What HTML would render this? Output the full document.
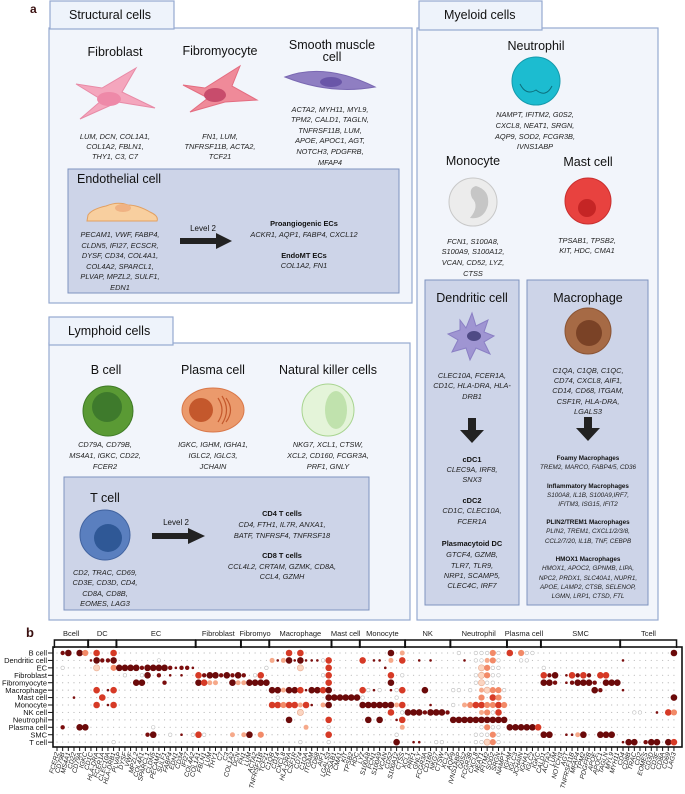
<!DOCTYPE html>
<html><head><meta charset="utf-8"><style>
html,body{margin:0;padding:0;background:#fff}
svg{display:block;font-family:"Liberation Sans",sans-serif}
.g{font-style:italic;font-size:7.4px;fill:#222;text-anchor:middle}
.b{font-weight:bold;font-size:7.4px;fill:#111;text-anchor:middle}
.h{font-size:12.5px;fill:#111;text-anchor:middle}
.tab{fill:#eef3fb;stroke:#95a9d0;stroke-width:1.2}
.box{fill:#f2f5fb;stroke:#95a9d0;stroke-width:1.2}
.inner{fill:#cdd4e8;stroke:#7f93bf;stroke-width:1}
</style></head><body>
<svg id="fig" width="685" height="794" viewBox="0 0 685 794">
<text x="30" y="13" font-size="12" font-weight="bold" fill="#3a1010">a</text>

<!-- Structural -->
<g>
<rect class="box" x="49" y="28" width="363" height="275"/>
<rect class="tab" x="50" y="1" width="124" height="28"/>
<text x="69" y="19" font-size="12.5" fill="#111">Structural cells</text>
<text class="h" x="115" y="56">Fibroblast</text>
<text class="h" x="220" y="55">Fibromyocyte</text>
<text class="h" x="332" y="49">Smooth muscle</text>
<text class="h" x="332" y="61">cell</text>
<path d="M76,84 L102,88 L136,68 L122,92 L155,108 L118,102 L80,119 L102,100 Z" fill="#f4a6bd" stroke="#e88aa6"/>
<ellipse cx="109" cy="99" rx="12" ry="7" fill="#ee89a8"/>
<path d="M183,85 L205,88 L240,66 L232,86 L257,100 L225,102 L190,112 L208,98 Z" fill="#ef8a99" stroke="#e46c80"/>
<ellipse cx="215" cy="95" rx="11" ry="7" fill="#c84c6c"/>
<path d="M285,77 Q325,62 375,87 Q330,95 285,77 Z" fill="#8f7ec2" stroke="#7a68b2"/>
<ellipse cx="331" cy="82" rx="11" ry="5" fill="#6a56a8"/>
<text class="g" x="115" y="139">LUM, DCN, COL1A1,</text>
<text class="g" x="115" y="149">COL1A2, FBLN1,</text>
<text class="g" x="115" y="159">THY1, C3, C7</text>
<text class="g" x="220" y="139">FN1, LUM,</text>
<text class="g" x="220" y="149">TNFRSF11B, ACTA2,</text>
<text class="g" x="220" y="159">TCF21</text>
<text class="g" x="330" y="112">ACTA2, MYH11, MYL9,</text>
<text class="g" x="330" y="122">TPM2, CALD1, TAGLN,</text>
<text class="g" x="330" y="133">TNFRSF11B, LUM,</text>
<text class="g" x="330" y="143">APOE, APOC1, AGT,</text>
<text class="g" x="330" y="154">NOTCH3, PDGFRB,</text>
<text class="g" x="330" y="165">MFAP4</text>
<g>
<rect class="inner" x="68" y="169" width="331" height="124"/>
<text x="77" y="183" font-size="12.5" fill="#111">Endothelial cell</text>
<path d="M87,221 L157,221 Q159,216 150,212 Q138,205 128,205 Q118,201 106,206 Q92,209 88,215 Z" fill="#f8cf9f" stroke="#e2a062"/>
<ellipse cx="123" cy="208" rx="8" ry="4" fill="#f0b283"/>
<text class="g" x="120" y="237">PECAM1, VWF, FABP4,</text>
<text class="g" x="120" y="248">CLDN5, IFI27, ECSCR,</text>
<text class="g" x="120" y="258">DYSF, CD34, COL4A1,</text>
<text class="g" x="120" y="269">COL4A2, SPARCL1,</text>
<text class="g" x="120" y="279">PLVAP, MPZL2, SULF1,</text>
<text class="g" x="120" y="290">EDN1</text>
<text x="203" y="231" font-size="8" fill="#111" text-anchor="middle">Level 2</text>
<path d="M180,238 L216,238 L216,233 L232,241 L216,249 L216,244 L180,244 Z" fill="#222"/>
<text class="b" x="304" y="226">Proangiogenic ECs</text>
<text class="g" x="304" y="237">ACKR1, AQP1, FABP4, CXCL12</text>
<text class="b" x="304" y="258">EndoMT ECs</text>
<text class="g" x="304" y="268">COL1A2, FN1</text>
</g></g>

<!-- Lymphoid -->
<g>
<rect class="box" x="49" y="343" width="361" height="277"/>
<rect class="tab" x="49" y="317" width="124" height="28"/>
<text x="68" y="335" font-size="12.5" fill="#111">Lymphoid cells</text>
<text class="h" x="106" y="374">B cell</text>
<text class="h" x="213" y="374">Plasma cell</text>
<text class="h" x="328" y="374">Natural killer cells</text>
<circle cx="108" cy="411" r="25" fill="#5a9a34" stroke="#3f7a26"/>
<circle cx="107" cy="407" r="15" fill="#3e7a2c"/>
<ellipse cx="213" cy="410" rx="31" ry="22" fill="#eb9a6c" stroke="#d9784a"/>
<circle cx="201" cy="410" r="12" fill="#c4582c"/>
<path d="M218,398 Q226,410 218,422 M222,396 Q231,410 222,424 M226,398 Q235,410 226,422" stroke="#c4582c" fill="none" stroke-width="1.2"/>
<circle cx="328" cy="410" r="26" fill="#e4f4d9" stroke="#a8d490"/>
<ellipse cx="336" cy="410" rx="11" ry="19" fill="#c0e2ad"/>
<text class="g" x="105" y="447">CD79A, CD79B,</text>
<text class="g" x="105" y="458">MS4A1, IGKC, CD22,</text>
<text class="g" x="105" y="469">FCER2</text>
<text class="g" x="213" y="447">IGKC, IGHM, IGHA1,</text>
<text class="g" x="213" y="458">IGLC2, IGLC3,</text>
<text class="g" x="213" y="469">JCHAIN</text>
<text class="g" x="328" y="447">NKG7, XCL1, CTSW,</text>
<text class="g" x="328" y="458">XCL2, CD160, FCGR3A,</text>
<text class="g" x="328" y="469">PRF1, GNLY</text>
<g>
<rect class="inner" x="64" y="477" width="305" height="133"/>
<text class="h" x="105" y="502" font-size="13">T cell</text>
<circle cx="105" cy="535" r="25" fill="#5a7fbf" stroke="#40629f"/>
<circle cx="108" cy="538" r="14" fill="#2f5896"/>
<text class="g" x="105" y="575">CD2, TRAC, CD69,</text>
<text class="g" x="105" y="585">CD3E, CD3D, CD4,</text>
<text class="g" x="105" y="596">CD8A, CD8B,</text>
<text class="g" x="105" y="606">EOMES, LAG3</text>
<text x="176" y="525" font-size="8" fill="#111" text-anchor="middle">Level 2</text>
<path d="M152,533 L188,533 L188,528 L205,536 L188,544 L188,539 L152,539 Z" fill="#222"/>
<text class="b" x="282" y="516">CD4 T cells</text>
<text class="g" x="282" y="527">CD4, FTH1, IL7R, ANXA1,</text>
<text class="g" x="282" y="538">BATF, TNFRSF4, TNFRSF18</text>
<text class="b" x="282" y="558">CD8 T cells</text>
<text class="g" x="282" y="569">CCL4L2, CRTAM, GZMK, CD8A,</text>
<text class="g" x="282" y="579">CCL4, GZMH</text>
</g></g>

<!-- Myeloid -->
<g>
<rect class="box" x="417" y="28" width="241" height="592"/>
<rect class="tab" x="419" y="1" width="123" height="29"/>
<text x="444" y="19" font-size="12.5" fill="#111">Myeloid cells</text>
<text class="h" x="536" y="50">Neutrophil</text>
<circle cx="536" cy="81" r="24" fill="#1cbcd0" stroke="#149aac"/>
<path d="M520,84 Q526,96 536,90 Q546,98 552,86" stroke="#0c6f7c" fill="none"/>
<text class="g" x="535" y="117">NAMPT, IFITM2, G0S2,</text>
<text class="g" x="535" y="128">CXCL8, NEAT1, SRGN,</text>
<text class="g" x="535" y="139">AQP9, SOD2, FCGR3B,</text>
<text class="g" x="535" y="149">IVNS1ABP</text>
<text class="h" x="473" y="165">Monocyte</text>
<text class="h" x="588" y="166">Mast cell</text>
<circle cx="473" cy="202" r="24" fill="#ececec" stroke="#c8c8c8"/>
<path d="M476,186 Q490,190 488,205 Q484,220 470,218 Q480,206 472,198 Q468,188 476,186 Z" fill="#c6c6c6"/>
<circle cx="588" cy="201" r="23" fill="#e8423f" stroke="#c92f2f"/>
<circle cx="587" cy="208" r="9" fill="#c52525"/>
<text class="g" x="473" y="244">FCN1, S100A8,</text>
<text class="g" x="473" y="254">S100A9, S100A12,</text>
<text class="g" x="473" y="265">VCAN, CD52, LYZ,</text>
<text class="g" x="473" y="276">CTSS</text>
<text class="g" x="587" y="243">TPSAB1, TPSB2,</text>
<text class="g" x="587" y="253">KIT, HDC, CMA1</text>
<g>
<rect class="inner" x="425" y="280" width="94" height="325"/>
<text class="h" x="472" y="302">Dendritic cell</text>
<path d="M460,320 L466,328 L472,313 L476,326 L488,320 L484,332 L494,336 L484,342 L490,354 L476,348 L470,360 L466,348 L452,352 L458,340 L448,334 L460,330 Z" fill="#9f95d2" stroke="#8a7fc4"/>
<ellipse cx="474" cy="336" rx="7" ry="5" fill="#4f4a85"/>
<text class="g" x="472" y="378">CLEC10A, FCER1A,</text>
<text class="g" x="472" y="388">CD1C, HLA-DRA, HLA-</text>
<text class="g" x="472" y="399">DRB1</text>
<path d="M468,418 L476,418 L476,430 L484,430 L472,443 L460,430 L468,430 Z" fill="#222"/>
<text class="b" x="472" y="462">cDC1</text>
<text class="g" x="472" y="472">CLEC9A, IRF8,</text>
<text class="g" x="472" y="482">SNX3</text>
<text class="b" x="472" y="503">cDC2</text>
<text class="g" x="472" y="513">CD1C, CLEC10A,</text>
<text class="g" x="472" y="524">FCER1A</text>
<text class="b" x="472" y="546">Plasmacytoid DC</text>
<text class="g" x="472" y="557">GTCF4, GZMB,</text>
<text class="g" x="472" y="568">TLR7, TLR9,</text>
<text class="g" x="472" y="578">NRP1, SCAMP5,</text>
<text class="g" x="472" y="588">CLEC4C, IRF7</text>
</g>
<g>
<rect class="inner" x="527" y="280" width="121" height="325"/>
<text class="h" x="588" y="302">Macrophage</text>
<circle cx="588" cy="331" r="23" fill="#a66a45" stroke="#8a5434"/>
<circle cx="589" cy="333" r="13" fill="#7a4226"/>
<text class="g" x="588" y="373">C1QA, C1QB, C1QC,</text>
<text class="g" x="588" y="383">CD74, CXCL8, AIF1,</text>
<text class="g" x="588" y="393">CD14, CD68, ITGAM,</text>
<text class="g" x="588" y="404">CSF1R, HLA-DRA,</text>
<text class="g" x="588" y="414">LGALS3</text>
<path d="M584,417 L592,417 L592,428 L600,428 L588,441 L576,428 L584,428 Z" fill="#222"/>
<g font-size="6.3">
<text class="b" x="588" y="460" style="font-size:6.3px">Foamy Macrophages</text>
<text class="g" x="588" y="469" style="font-size:6.3px">TREM2, MARCO, FABP4/5, CD36</text>
<text class="b" x="588" y="488" style="font-size:6.3px">Inflammatory Macrophages</text>
<text class="g" x="588" y="497" style="font-size:6.3px">S100A8, IL1B, S100A9,IRF7,</text>
<text class="g" x="588" y="506" style="font-size:6.3px">IFITM3, ISG15, IFIT2</text>
<text class="b" x="588" y="524" style="font-size:6.3px">PLIN2/TREM1 Macrophages</text>
<text class="g" x="588" y="533" style="font-size:6.3px">PLIN2, TREM1, CXCL1/2/3/8,</text>
<text class="g" x="588" y="543" style="font-size:6.3px">CCL2/7/20, IL1B, TNF, CEBPB</text>
<text class="b" x="588" y="561" style="font-size:6.3px">HMOX1 Macrophages</text>
<text class="g" x="588" y="570" style="font-size:6.3px">HMOX1, APOC2, GPNMB, LIPA,</text>
<text class="g" x="588" y="580" style="font-size:6.3px">NPC2, PRDX1, SLC40A1, NUPR1,</text>
<text class="g" x="588" y="589" style="font-size:6.3px">APOE, LAMP2, CTSB, SELENOP,</text>
<text class="g" x="588" y="598" style="font-size:6.3px">LGMN, LRP1, CTSD, FTL</text>
</g></g></g>

<text x="26" y="637" font-size="13" font-weight="bold" fill="#3a1010">b</text>
<g id="dotplot"></g>
</svg>
<script>
// ---- dot plot data ----
const groups = ["Bcell","DC","EC","Fibroblast","Fibromyo","Macrophage","Mast cell","Monocyte","NK","Neutrophil","Plasma cell","SMC","Tcell"];
const groupSizes = [6,5,14,8,5,11,5,8,8,10,6,14,10];
const genes = ["FCER2","CD79B","MS4A1","CD22","CD79A","IGKC",
"CD1C","HLA-DRA","FCER1A","CLEC10A","HLA-DRB1",
"PLVAP","DYSF","VWF","MPZL2","COL4A1","SPARCL1","CLDN5","PECAM1","SULF1","FABP4","EDN1","CD34","IFI27","COL4A2",
"COL1A1","FBLN1","LUM","THY1","C7","C3","COL1A2","DCN",
"FN1","LUM","ACTA2","TNFRSF11B","TCF21",
"C1QB","CD14","CXCL8","HLA-DRA","CSF1R","CD74","C1QA","ITGAM","CD68","AIF1","LGALS3",
"TPSAB1","CMA1","KIT","TPSB2","HDC",
"LYZ","S100A8","FCN1","S100A9","VCAN","CD52","S100A12","CTSS",
"XCL1","PRF1","GNLY","FCGR3A","CD160","NKG7","CTSW","XCL2",
"AQP9","IVNS1ABP","G0S2","FCGR3B","CXCL8","NEAT1","IFITM2","SOD2","SRGN","NAMPT",
"IGHM","IGLC3","JCHAIN","IGHA1","IGLC2","IGKC",
"CALD1","ACTA2","LUM","NOTCH3","AGT","TNFRSF11B","MFAP4","TPM2","PDGFRB","APOE","APOC1","TAGLN","MYL9","MYH11",
"CD4","CD8B","TRAC","CD2","EOMES","CD3D","CD3E","CD8A","CD69","LAG3"];
const cellTypes = ["B cell","Dendritic cell","EC","Fibroblast","Fibromyocyte","Macrophage","Mast cell","Monocyte","NK cell","Neutrophil","Plasma cell","SMC","T cell"];
// expression level codes per row (one char per gene): . tiny, o open, s small, m medium, L large dark, R red, P salmon, p pink, q pale
const rowB   = ".mL.LP"+".R..R"+".............."+"........"+"....."+"...R.R....."+"....."+".....L.p"+"........"+".o..oooPo."+"R.Poo."+".............."+".........L";
const rowDC  = "......"+"sLmmL"+".......o......"+"........"+"....."+"pspLsLsssoR"+"....."+"R.ss.p.R"+"..s.s..."+"..s.oopPo."+"..oo.."+".............."+"s.........";
const rowEC  = ".o...."+".q..P"+"LLLLmLLLLmsmms"+"........"+"....o"+".....q....R"+"....."+"....s..."+"........"+".....qPoo."+"......"+"o............."+"..........";
const rowFb  = "......"+"....."+".o..oL.m.s.s.."+"RmLLmLmL"+"m.oR."+".........oR"+"....."+".....R.o"+"........"+"....oqPoo."+"......"+"RmL.sRmRm.RR.."+"..........";
const rowFm  = "......"+"....."+"...LL...m....."+"LRpp..Lp"+"pLLLL"+"..........R"+"....."+".....L.."+"........"+"....oqoo.."+"......"+"LLm.smLLLm.LLL"+"..........";
const rowMac = "......"+".R.sR"+".............."+"........"+"....."+"LLpLLRsLLRL"+"....."+"Roso.soR"+"...L...."+"oo.o.pqPPo"+"......"+".........Lm..."+"s.........";
const rowMast= "...s.."+"..R.."+".............."+"........"+"....."+".o........L"+"LLLLL"+"o.....o."+"........"+".....P.RP."+"......"+".............."+".........L";
const rowMono= "......"+".R.sR"+".............."+"........"+"....."+"RRPRRpRs.pL"+"....."+"LLLLLLpR"+"....s..."+"o.pPRRPPRP"+"......"+".............."+"..........";
const rowNK  = "......"+"....."+".............."+"........"+"....."+".....q....."+"....."+".....R.o"+"LLLmLLLm"+".....pPoR."+"......"+".............."+"..oo..s.RP";
const rowNeu = "......"+"....."+".............."+"........"+"....."+"...L......R"+"....."+".L.L..sR"+"........"+"LLLLLLLLLL"+"......"+".............."+"..........";
const rowPl  = ".m..LL"+"....."+"......o......."+"........"+"....."+"......p...o"+"....."+".......p"+"........"+".....oPoo."+"LLLLLR"+".............."+"..........";
const rowSMC = "......"+"....."+".....mL..o.s.o"+"Ro....p."+"pL.P."+"..........R"+"....."+"......o."+"........"+"....oooPo."+"......"+"LL..sspL..LLL."+"..........";
const rowT   = "......"+"....o"+".............."+"........"+"....."+".....o....o"+"....."+"......L."+".ss..oo."+"....ooqPo."+"......"+".............."+"sLL.mLL.LR";
const rows = [rowB,rowDC,rowEC,rowFb,rowFm,rowMac,rowMast,rowMono,rowNK,rowNeu,rowPl,rowSMC,rowT];

const NS="http://www.w3.org/2000/svg";
const dp=document.getElementById('dotplot');
const X0=57, DX=5.66, Y0=653, DY=7.43;
const xPos=i=>X0+i*DX, yPos=j=>Y0+j*DY;
const style={'.':[0.6,'#bbb','none'],'o':[1.8,'#fff','#bbb'],'s':[1.3,'#7a0d0d','none'],'m':[2.2,'#7a0d0d','none'],
 'L':[3.3,'#6b0a0a','none'],'R':[3.3,'#d63a26','none'],'P':[3.1,'#f28a68','none'],'p':[2.5,'#f6a98a','none'],'q':[3.1,'#fbd5c1','#e9a88c']};
function mk(t,a){const e=document.createElementNS(NS,t);for(const k in a)e.setAttribute(k,a[k]);dp.appendChild(e);return e;}
// frame
let fr=mk('rect',{x:53,y:647,width:629,height:100,fill:'none',stroke:'#111','stroke-width':1.6});


// group brackets
let gi=0;
groups.forEach((g,k)=>{
  const x1=xPos(gi)-2.6, x2=xPos(gi+groupSizes[k]-1)+2.6;
  const p=mk('path',{d:`M${x1},648 L${x1},640 L${x2},640 L${x2},648`,fill:'none',stroke:'#111','stroke-width':1.5});
  
  
  const t=mk('text',{x:(x1+x2)/2,y:636,'font-size':7.5,'text-anchor':'middle',fill:'#222'});
  t.textContent=g;
  
  
  gi+=groupSizes[k];
});
// row labels
cellTypes.forEach((c,j)=>{
  const t=mk('text',{x:47,y:yPos(j)+2.6,'font-size':7.5,'text-anchor':'end',fill:'#111'});
  t.textContent=c;
  
  
  mk('line',{x1:48,x2:53,y1:yPos(j),y2:yPos(j),stroke:'#111','stroke-width':1});
});
// gene labels + ticks
genes.forEach((g,i)=>{
  mk('line',{x1:xPos(i),x2:xPos(i),y1:747,y2:751,stroke:'#111','stroke-width':1});
  const t=mk('text',{transform:`translate(${xPos(i)+2},753) rotate(-75)`,'font-size':6.6,'font-style':'italic','text-anchor':'end',fill:'#222'});
  t.textContent=g;
  
  
});
// dots
rows.forEach((r,j)=>{
  for(let i=0;i<genes.length;i++){
    const s=style[r[i]||'.']||style['.'];
    const c=mk('circle',{cx:xPos(i),cy:yPos(j),r:s[0],fill:s[1],stroke:s[2],'stroke-width':0.6});
    
    
  }
});
</script>
</body></html>
